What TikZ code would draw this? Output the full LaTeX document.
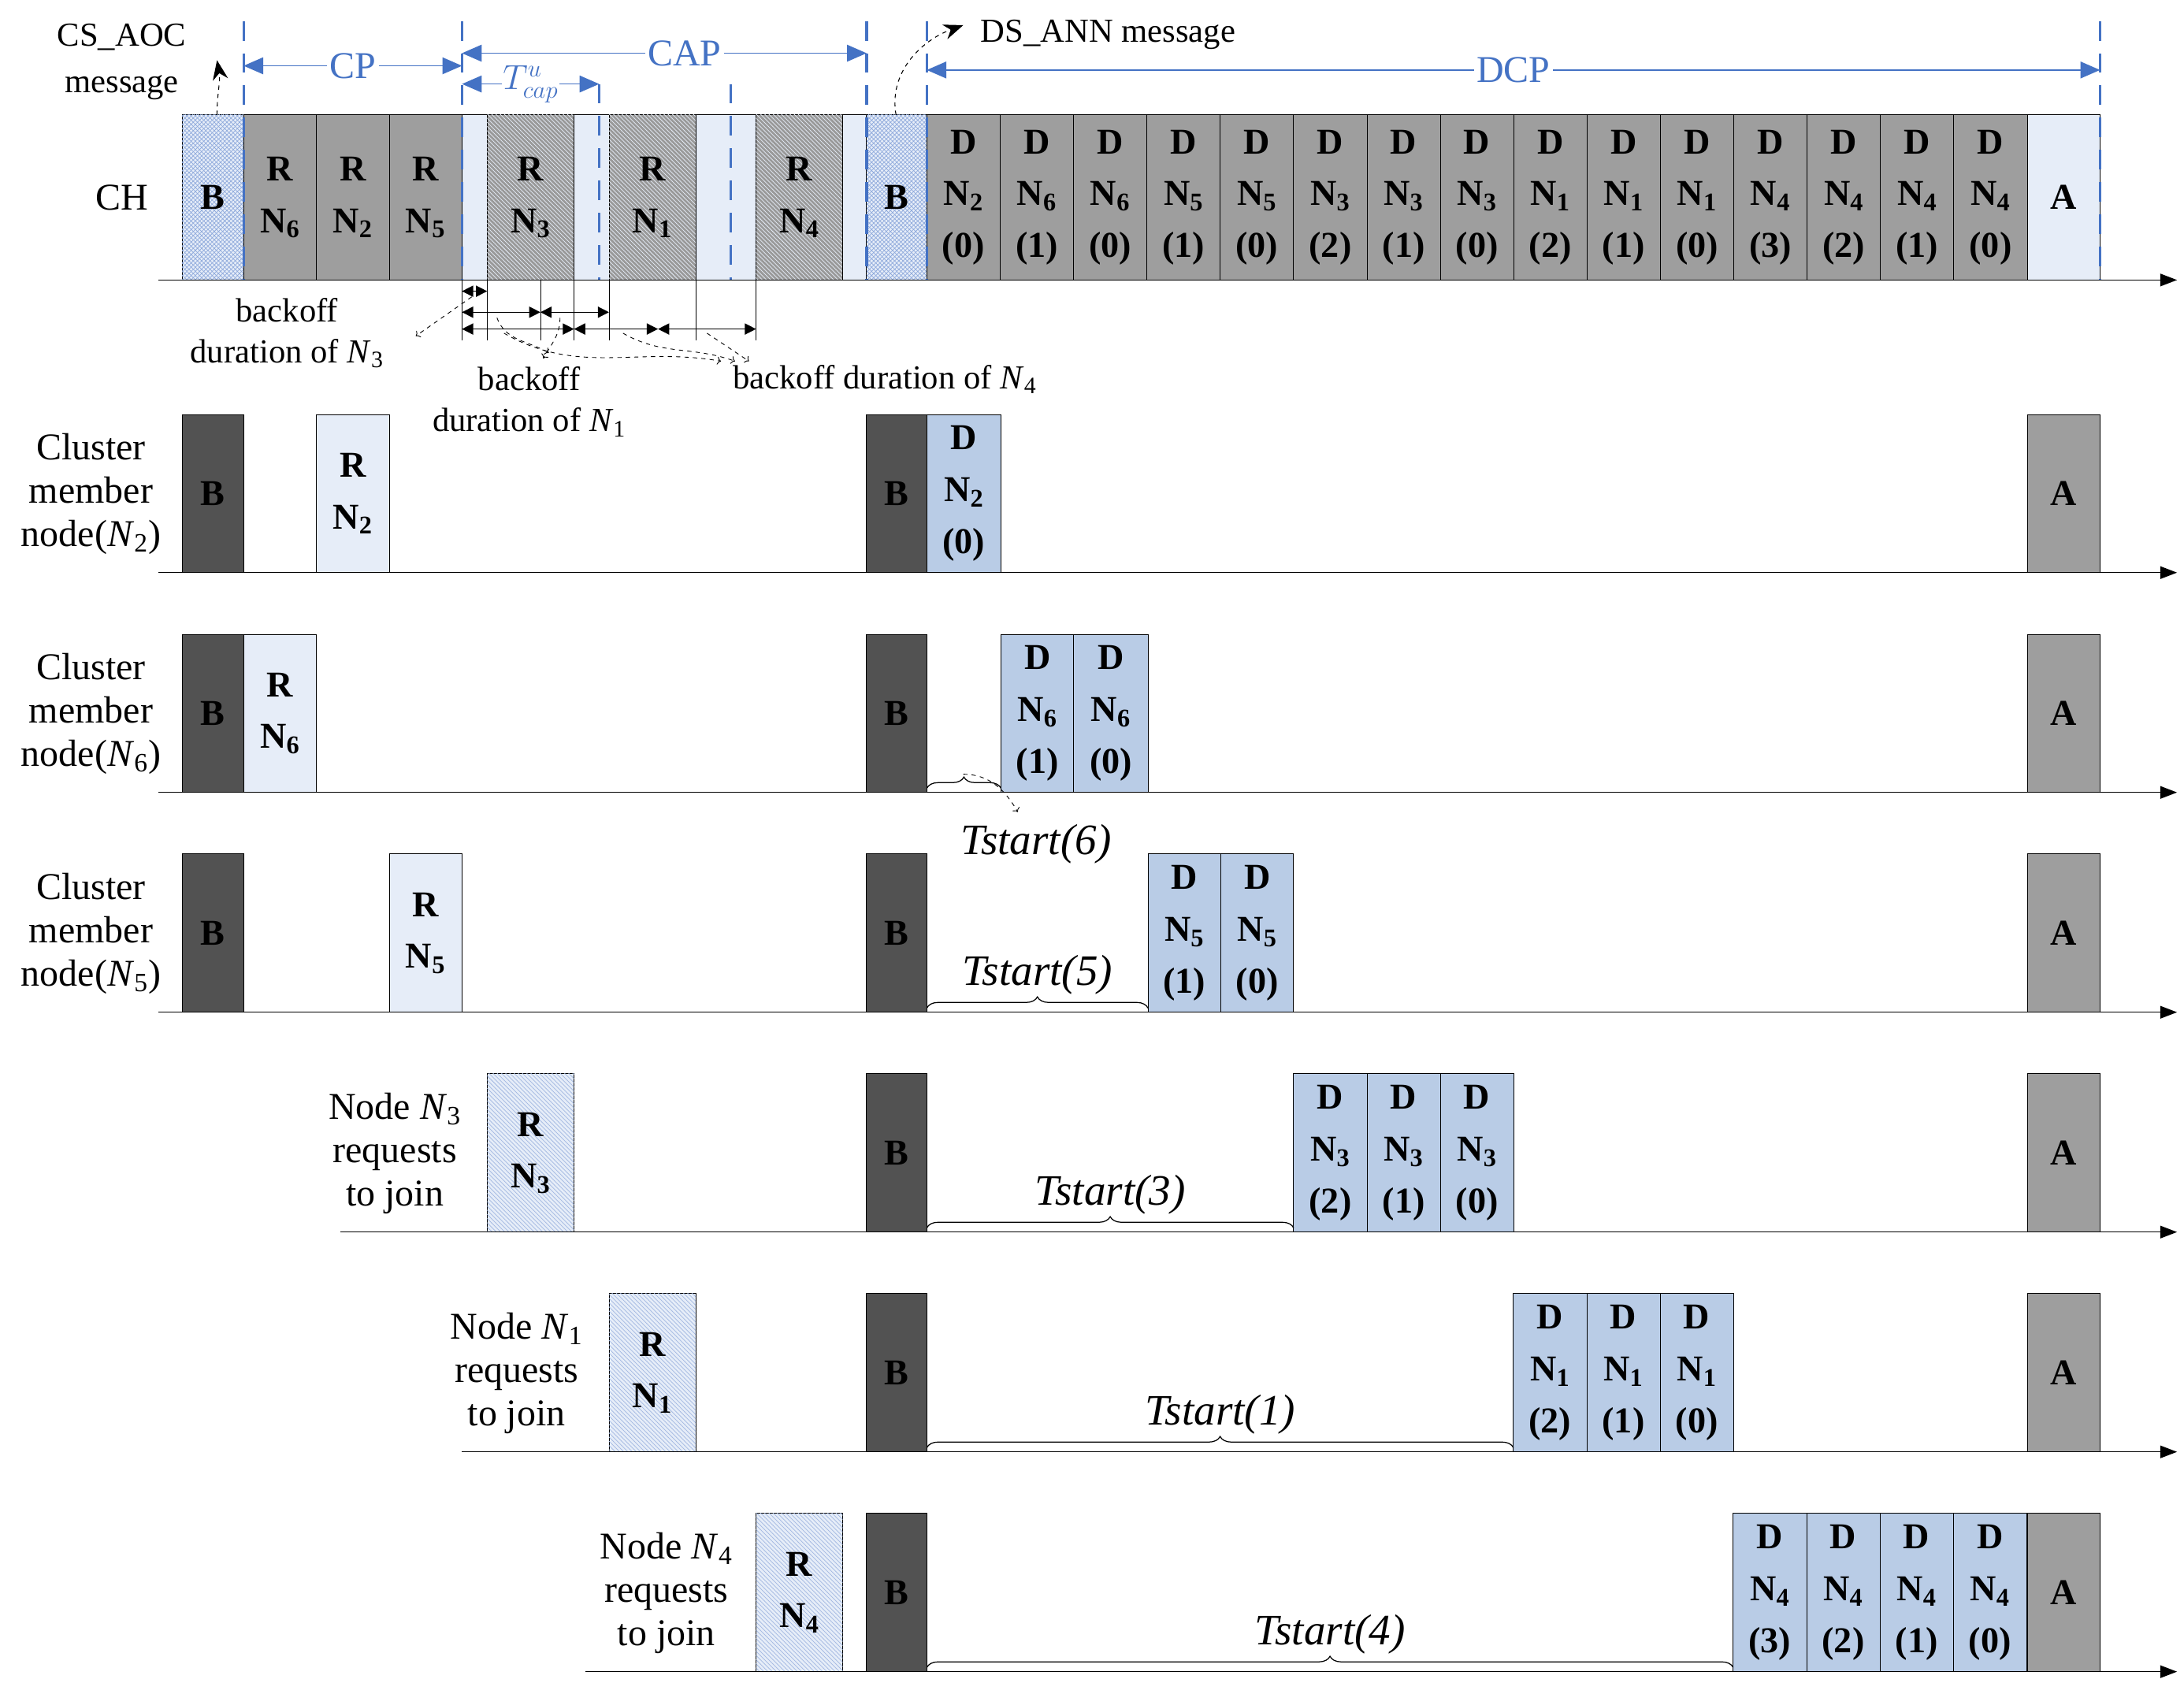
\documentclass[tikz,border=0pt]{standalone}
\usepackage{fontspec}
\setmainfont{Liberation Serif}
\usetikzlibrary{patterns,decorations.pathreplacing,arrows.meta}
\definecolor{lb}{RGB}{230,237,248}
\definecolor{db}{RGB}{185,204,230}
\definecolor{bl}{RGB}{68,114,196}
\newcommand\cellbox[7]{%
 \node[#6,minimum width={(#3-#2)*1pt},minimum height={#5*1pt},anchor=north west,align=center] (#1) at (#2,#4) {#7};}
\newcommand\Nb[1]{N\textsubscript{#1}}
\newcommand\Ni[1]{\textit{N}\textsubscript{#1}}
\begin{document}
\begin{tikzpicture}[x=1pt,y=-1pt,font=\fontsize{27}{31}\selectfont,
 cellb/.style={draw,line width=0.5pt,inner sep=0pt,outer sep=0pt,font=\fontsize{26}{37}\selectfont\bfseries},
 darkb/.style={cellb,fill=black!68},
 grayb/.style={cellb,fill=black!38},
 lightb/.style={cellb,fill=lb},
 blueb/.style={cellb,fill=db},
 hatchb/.style={cellb,fill=black!40,postaction={pattern=north west lines,pattern color=lb}},
 crossb/.style={cellb,fill=lb,postaction={pattern=crosshatch,pattern color=bl!60}},
 hatchl/.style={cellb,fill=lb,postaction={pattern=north west lines,pattern color=bl!50}},
 axis/.style={-{Triangle[length=12pt,width=9pt]},line width=0.8pt},
 bdash/.style={bl,dashed,dash pattern=on 14pt off 9pt,line width=1.8pt},
 barr/.style={bl,{Triangle[length=14pt,width=12pt]}-{Triangle[length=14pt,width=12pt]},line width=0.8pt},
 karr/.style={{Triangle[length=8pt,width=8pt]}-{Triangle[length=8pt,width=8pt]},line width=0.7pt},
 darr/.style={dashed,-{Stealth[length=14pt,width=11pt]},line width=0.6pt},
 thinar/.style={dashed,->,line width=0.5pt},
 brc/.style={decorate,decoration={brace,amplitude=8pt},line width=0.7pt}]
\useasboundingbox (0,0) rectangle (1560,1209.4);
% ---- CH row
\node (ch) at (87,141) {CH};
\cellbox{chB1}{130}{174}{82}{118}{crossb}{B}
\cellbox{chR6}{174}{226}{82}{118}{grayb}{R\\\Nb6}
\cellbox{chR2}{226}{278}{82}{118}{grayb}{R\\\Nb2}
\cellbox{chR5}{278}{330}{82}{118}{grayb}{R\\\Nb5}
\cellbox{chg1}{330}{348}{82}{118}{lightb}{}
\cellbox{chR3}{348}{410}{82}{118}{hatchb}{R\\\Nb3}
\cellbox{chg2}{410}{435}{82}{118}{lightb}{}
\cellbox{chR1}{435}{497}{82}{118}{hatchb}{R\\\Nb1}
\cellbox{chg3}{497}{540}{82}{118}{lightb}{}
\cellbox{chR4}{540}{602}{82}{118}{hatchb}{R\\\Nb4}
\cellbox{chg4}{602}{619}{82}{118}{lightb}{}
\cellbox{chB2}{619}{662}{82}{118}{crossb}{B}
\foreach \n/\k [count=\i from 0] in {2/0,6/1,6/0,5/1,5/0,3/2,3/1,3/0,1/2,1/1,1/0,4/3,4/2,4/1,4/0}{
 \pgfmathsetmacro\xa{662+\i*52.4}\pgfmathsetmacro\xb{662+(\i+1)*52.4}
 \cellbox{chD\i}{\xa}{\xb}{82}{118}{grayb}{D\\\Nb\n\\(\k)}}
\cellbox{chA}{1448}{1500}{82}{118}{lightb}{A}
\coordinate (a0s) at (113,200);\coordinate (a0e) at (1555,200);
\draw[axis] (a0s) -- (a0e);
% dashed blue lines
\foreach \x in {174,330,619,662,1500}{\draw[bdash] (\x,15) -- (\x,200);}
\foreach \x in {428,522}{\draw[bdash] (\x,60) -- (\x,200);}
\coordinate (cp1) at (174,47);\coordinate (cp2) at (330,47);
\draw[barr] (cp1) -- node[fill=white,inner sep=2pt]{CP} (cp2);
\coordinate (cap1) at (330,38);\coordinate (cap2) at (619,38);
\draw[barr] (cap1) -- node[fill=white,inner sep=2pt,pos=0.55]{CAP} (cap2);
\coordinate (tc1) at (330,60);\coordinate (tc2) at (428,60);
\draw[barr] (tc1) -- node[fill=white,inner sep=1pt,font=\fontsize{24}{26}\selectfont\itshape]{$T^{u}_{cap}$} (tc2);
\coordinate (dc1) at (662,50);\coordinate (dc2) at (1500,50);
\draw[barr] (dc1) -- node[fill=white,inner sep=2pt]{DCP} (dc2);
\node[align=center,font=\fontsize{24}{33}\selectfont] (aoc) at (87,44) {CS\_AOC\\message};
\coordinate (aocs) at (155,82);\coordinate (aoce) at (155,43);
\draw[darr] (aocs) to[out=90,in=-80] (aoce);
\node[font=\fontsize{24}{28}\selectfont,anchor=west] (ann) at (697,25) {DS\_ANN message};
\coordinate (anns) at (640,82);\coordinate (anne) at (688,18);
\draw[darr] (anns) to[out=100,in=200] (anne);
% backoff
\foreach \x in {330,348,386,410,435,497,540}{\draw[line width=0.4pt] (\x,200) -- (\x,243);}
\draw[karr] (330,208) -- (348,208);
\draw[karr] (330,223) -- (386,223); \draw[karr] (386,223) -- (435,223);
\draw[karr] (330,235) -- (410,235); \draw[karr] (410,235) -- (470,235); \draw[karr] (470,235) -- (540,235);
\node[align=center,font=\fontsize{24}{29}\selectfont] (bo3) at (205,238) {backoff\\duration of \Ni3};
\node[align=center,font=\fontsize{24}{29}\selectfont] (bo1) at (378,287) {backoff\\duration of \Ni1};
\node[font=\fontsize{24}{29}\selectfont] (bo4) at (632,271) {backoff duration of \Ni4};
\draw[thinar] (337,212) -- (297,240);
\draw[thinar] (355,227) to[out=-70,in=150] (392,252);
\draw[thinar] (400,227) to[out=-90,in=60] (388,256);
\draw[thinar] (360,238) to[out=-30,in=170] (515,258);
\draw[thinar] (445,238) to[out=-30,in=160] (525,258);
\draw[thinar] (505,238) -- (535,258);
% ---- member rows
\foreach \t/\lab [count=\r] in {296/\Ni2,453/\Ni6,610/\Ni5}{
 \node[align=center] (lab\r) at (65,\t+57) {Cluster\\member\\node(\lab)};
 \cellbox{mB\r}{130}{174}{\t}{113}{darkb}{B}
 \cellbox{mBB\r}{619}{662}{\t}{113}{darkb}{B}
 \cellbox{mA\r}{1448}{1500}{\t}{113}{grayb}{A}
 \coordinate (ms\r) at (113,\t+113);\coordinate (me\r) at (1555,\t+113);
 \draw[axis] (ms\r) -- (me\r);}
\cellbox{rN2}{226}{278}{296}{113}{lightb}{R\\\Nb2}
\cellbox{dN2}{662}{715}{296}{113}{blueb}{D\\\Nb2\\(0)}
\cellbox{rN6}{174}{226}{453}{113}{lightb}{R\\\Nb6}
\cellbox{dN6a}{715}{767}{453}{113}{blueb}{D\\\Nb6\\(1)}
\cellbox{dN6b}{767}{820}{453}{113}{blueb}{D\\\Nb6\\(0)}
\cellbox{rN5}{278}{330}{610}{113}{lightb}{R\\\Nb5}
\cellbox{dN5a}{820}{872}{610}{113}{blueb}{D\\\Nb5\\(1)}
\cellbox{dN5b}{872}{924}{610}{113}{blueb}{D\\\Nb5\\(0)}
% ---- joining rows
\foreach \t/\lab/\lx/\ls/\rx/\ry [count=\r] in {767/\Ni3/282/243/348/410,924/\Ni1/369/330/435/497,1081/\Ni4/476/418/540/602}{
 \node[align=center] (jl\r) at (\lx,\t+57) {Node \lab\\requests\\to join};
 \cellbox{jR\r}{\rx}{\ry}{\t}{113}{hatchl}{R\\\Nb{\ifcase\r\or3\or1\or4\fi}}
 \cellbox{jB\r}{619}{662}{\t}{113}{darkb}{B}
 \cellbox{jA\r}{1448}{1500}{\t}{113}{grayb}{A}
 \coordinate (js\r) at (\ls,\t+113);\coordinate (je\r) at (1555,\t+113);
 \draw[axis] (js\r) -- (je\r);}
\foreach \k [count=\i from 0] in {2,1,0}{\pgfmathsetmacro\xa{924+\i*52.4}\pgfmathsetmacro\xb{924+(\i+1)*52.4}
 \cellbox{dN3\i}{\xa}{\xb}{767}{113}{blueb}{D\\\Nb3\\(\k)}}
\foreach \k [count=\i from 0] in {2,1,0}{\pgfmathsetmacro\xa{1081+\i*52.4}\pgfmathsetmacro\xb{1081+(\i+1)*52.4}
 \cellbox{dN1\i}{\xa}{\xb}{924}{113}{blueb}{D\\\Nb1\\(\k)}}
\foreach \k [count=\i from 0] in {3,2,1,0}{\pgfmathsetmacro\xa{1238+\i*52.4}\pgfmathsetmacro\xb{1238+(\i+1)*52.4}
 \cellbox{dN4\i}{\xa}{\xb}{1081}{113}{blueb}{D\\\Nb4\\(\k)}}
% ---- Tstart braces
\tikzset{tsl/.style={font=\fontsize{31}{35}\selectfont\itshape}}
\draw[brc] (662,563) -- (715,563);
\node[tsl] (ts6) at (740,603) {Tstart(6)};
\draw[thinar] (688,553) to[out=0,in=120] (727,580);
\draw[brc] (662,720) -- (820,720) node[midway,above=6pt,tsl] (ts5) {Tstart(5)};
\draw[brc] (662,877) -- (924,877) node[midway,above=6pt,tsl] (ts3) {Tstart(3)};
\draw[brc] (662,1034) -- (1081,1034) node[midway,above=6pt,tsl] (ts1) {Tstart(1)};
\draw[brc] (662,1191) -- (1238,1191) node[midway,above=6pt,tsl] (ts4) {Tstart(4)};
\end{tikzpicture}
\end{document}
